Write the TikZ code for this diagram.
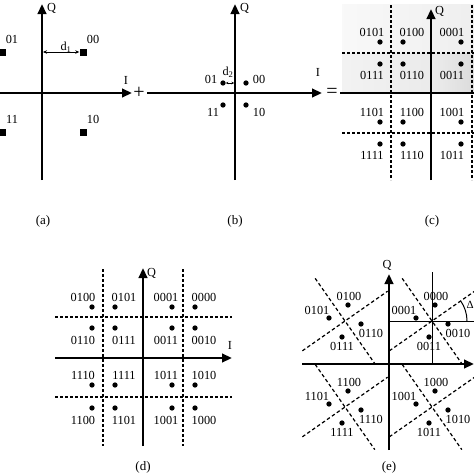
\documentclass[tikz,border=0pt]{standalone}
\usepackage{fontspec}
\setmainfont{Liberation Serif}
\usetikzlibrary{arrows.meta}
\begin{document}
\begin{tikzpicture}[x=1pt,y=-1pt,
 lbl/.style={font=\fontsize{12.3}{12.3}\selectfont, inner sep=0pt},
 captxt/.style={font=\fontsize{13}{13}\selectfont, inner sep=0pt},
 axis/.style={line width=2.5pt, -{Triangle[length=10pt,width=8.5pt]}},
 axisn/.style={line width=2.5pt},
 dot/.style={circle, fill=black, inner sep=0pt, minimum size=5.3pt},
 sq/.style={fill=black, inner sep=0pt, minimum size=7pt},
 gridl/.style={line width=1.4pt, dash pattern=on 3pt off 2pt},
 rgrid/.style={line width=1.2pt, dash pattern=on 3.5pt off 2.5pt},
 thinl/.style={line width=1pt},
 dim/.style={line width=0.6pt, {Stealth[length=4pt,width=3.5pt]}-{Stealth[length=4pt,width=3.5pt]}},
 big/.style={font=\fontsize{20}{20}\selectfont, inner sep=0pt}]
\fill[white] (0,0) rectangle (474,474);
\useasboundingbox (0,0) rectangle (474,474);

% ---------------- (a)
\coordinate (aQb) at (42,180); \coordinate (aQt) at (42,4);
\coordinate (aIl) at (0,93); \coordinate (aIr) at (132,93);
\draw[axis] (aQb) -- (aQt);
\draw[axis] (aIl) -- (aIr);
\node[lbl, anchor=west] (aQ) at (47,8) {Q};
\node[lbl] (aI) at (126,80) {I};
\node[big] (plus) at (139,93) {+};
\node[sq] (a00) at (83,52) {};
\node[sq] (a01) at (2,52) {};
\node[sq] (a11) at (2,132) {};
\node[sq] (a10) at (83,132) {};
\node[lbl] (aL00) at (93,39) {00};
\node[lbl] (aL01) at (12,39) {01};
\node[lbl] (aL11) at (12,119) {11};
\node[lbl] (aL10) at (93,119) {10};
\coordinate (ad) at (43,52);
\draw[dim] (ad) -- (a00.west);
\node[lbl] (ad1) at (66,47) {d\textsubscript{1}};
\node[captxt] (capa) at (43,221) {(a)};

% ---------------- (b)
\coordinate (bQb) at (235,180); \coordinate (bQt) at (235,4);
\coordinate (bIl) at (147,93); \coordinate (bIr) at (322,93);
\draw[axis] (bQb) -- (bQt);
\draw[axis] (bIl) -- (bIr);
\node[lbl, anchor=west] (bQ) at (240,8) {Q};
\node[lbl] (bI) at (318,72) {I};
\node[big] (eq) at (332,93) {=};
\node[dot] (b01) at (223,83) {};
\node[dot] (b00) at (246,83) {};
\node[dot] (b11) at (223,105) {};
\node[dot] (b10) at (246,105) {};
\node[lbl] (bL01) at (211,79) {01};
\node[lbl] (bL00) at (259,79) {00};
\node[lbl] (bL11) at (213,112) {11};
\node[lbl] (bL10) at (259,112) {10};
\coordinate (bd) at (234,83);
\draw[line width=0.5pt, {Stealth[length=2.5pt,width=2.5pt]}-{Stealth[length=2.5pt,width=2.5pt]}] (b01.east) -- (bd);
\node[lbl] (bd2) at (228,72) {d\textsubscript{2}};
\node[captxt] (capb) at (235,221) {(b)};

% ---------------- (c)
\shade[left color=gray!5, right color=gray!13] (342,4) rectangle (474,93);
\shade[left color=gray!10, right color=gray!16] (342,53) rectangle (431,93);
\shade[left color=gray!14, right color=gray!28] (431,53) rectangle (474,93);
\coordinate (cv1t) at (391,5); \coordinate (cv1b) at (391,180);
\coordinate (cv2t) at (472,5); \coordinate (cv2b) at (472,180);
\coordinate (ch1l) at (342,53); \coordinate (ch1r) at (474,53);
\coordinate (ch2l) at (342,133); \coordinate (ch2r) at (474,133);
\draw[gridl] (cv1t) -- (cv1b);
\draw[gridl] (cv2t) -- (cv2b);
\draw[gridl] (ch1l) -- (ch1r);
\draw[gridl] (ch2l) -- (ch2r);
\coordinate (cQb) at (431,180); \coordinate (cQt) at (431,9);
\coordinate (cIl) at (340,93); \coordinate (cIr) at (474,93);
\draw[axis] (cQb) -- (cQt);
\draw[axisn] (cIl) -- (cIr);
\node[lbl, anchor=west] (cQ) at (435,11) {Q};
\foreach \px/\py/\lx/\ly/\t [count=\i] in {
 380/42/372/32/0101, 403/42/412/32/0100, 461/42/452/32/0001,
 380/64/372/75/0111, 403/64/412/75/0110, 461/64/452/75/0011,
 380/122/372/112/1101, 403/122/412/112/1100, 461/122/452/112/1001,
 380/144/372/155/1111, 403/144/412/155/1110, 461/144/452/155/1011}{
 \node[dot] (cp\i) at (\px,\py) {};
 \node[lbl] (cl\i) at (\lx,\ly) {\t};
}
\node[captxt] (capc) at (432,221) {(c)};

% ---------------- (d)
\coordinate (dv1t) at (103,269); \coordinate (dv1b) at (103,446);
\coordinate (dv2t) at (183,269); \coordinate (dv2b) at (183,446);
\coordinate (dh1l) at (55,317); \coordinate (dh1r) at (232,317);
\coordinate (dh2l) at (55,397); \coordinate (dh2r) at (232,397);
\draw[gridl] (dv1t) -- (dv1b);
\draw[gridl] (dv2t) -- (dv2b);
\draw[gridl] (dh1l) -- (dh1r);
\draw[gridl] (dh2l) -- (dh2r);
\coordinate (dQb) at (143,446); \coordinate (dQt) at (143,268);
\coordinate (dIl) at (55,358); \coordinate (dIr) at (232,358);
\draw[axis] (dQb) -- (dQt);
\draw[axis] (dIl) -- (dIr);
\node[lbl, anchor=west] (dQ) at (147,273) {Q};
\node[lbl] (dI) at (230,345) {I};
\foreach \px/\py/\lx/\ly/\t [count=\i] in {
 92/307/83/297/0100, 115/307/124/297/0101, 172/307/166/297/0001, 195/307/204/297/0000,
 92/328/83/340/0110, 115/328/124/340/0111, 172/328/166/340/0011, 195/328/204/340/0010,
 92/385/83/375/1110, 115/385/124/375/1111, 172/385/166/375/1011, 195/385/204/375/1010,
 92/408/83/420/1100, 115/408/124/420/1101, 172/408/166/420/1001, 195/408/204/420/1000}{
 \node[dot] (dp\i) at (\px,\py) {};
 \node[lbl] (dl\i) at (\lx,\ly) {\t};
}
\node[captxt] (capd) at (143,467) {(d)};

% ---------------- (e)
\foreach \cx/\cy/\ta/\tb/\tc/\td [count=\q] in {
 345/321/0100/0101/0110/0111, 432/321/0000/0001/0010/0011,
 345/407/1100/1101/1110/1111, 432/407/1000/1001/1010/1011}{
 \coordinate (ec\q) at (\cx,\cy);
 \coordinate (ea\q) at (\cx-42.6,\cy+29.8);
 \coordinate (eb\q) at (\cx+42.6,\cy-29.8);
 \coordinate (ed\q) at (\cx-29.8,\cy-42.6);
 \coordinate (ee\q) at (\cx+29.8,\cy+42.6);
 \draw[rgrid] (ea\q) -- (eb\q);
 \draw[rgrid] (ed\q) -- (ee\q);
 \node[dot] (ept\q) at (\cx+3,\cy-16) {};
 \node[dot] (epl\q) at (\cx-16,\cy-3) {};
 \node[dot] (epr\q) at (\cx+16,\cy+3) {};
 \node[dot] (epb\q) at (\cx-3,\cy+16) {};
 \node[lbl] (elt\q) at (\cx+4,\cy-25) {\ta};
 \node[lbl] (ell\q) at (\cx-28,\cy-11) {\tb};
 \node[lbl] (elr\q) at (\cx+26,\cy+12) {\tc};
 \node[lbl] (elb\q) at (\cx-3,\cy+25) {\td};
}
\coordinate (evt) at (432,272); \coordinate (evb) at (432,364);
\coordinate (ehl) at (389,321); \coordinate (ehr) at (474,321);
\draw[thinl] (evt) -- (evb);
\draw[thinl] (ehl) -- (ehr);
\draw[thinl] (467,321) arc[start angle=0, end angle=-35, radius=35];
\node[font=\fontsize{11}{11}\selectfont, inner sep=0pt, anchor=east] (edelta) at (474,305) {Δ};
\coordinate (eQb) at (389,450); \coordinate (eQt) at (389,274);
\coordinate (eIl) at (302,364); \coordinate (eIr) at (474,364);
\draw[axis] (eQb) -- (eQt);
\draw[axis] (eIl) -- (eIr);
\node[lbl] (eQ) at (387,265) {Q};
\node[captxt] (cape) at (389,467) {(e)};
\end{tikzpicture}
\end{document}
